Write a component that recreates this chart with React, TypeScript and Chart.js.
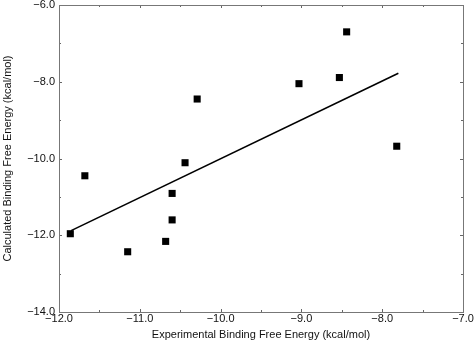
import React, { useEffect, useRef } from "react";
import { Chart, registerables } from "chart.js";

Chart.register(...registerables);

const expValues = [-11.86, -11.68, -11.15, -10.68, -10.6, -10.6, -10.44, -10.29, -9.03, -8.53, -8.44, -7.82];
const calcValues = [-11.96, -10.45, -12.43, -12.16, -11.6, -10.91, -10.11, -8.45, -8.05, -7.89, -6.7, -9.68];
const fitX = [-11.85, -7.8];
const fitY = [-11.88, -7.78];
const xTickMin = -12;
const xTickMax = -7;
const yTickMin = -14;
const yTickMax = -6;
const xTitle = "Experimental Binding Free Energy (kcal/mol)";
const yTitle = "Calculated Binding Free Energy (kcal/mol)";

const fmt = (v: number) => (v < 0 ? "\u2212" + Math.abs(v).toFixed(1) : v.toFixed(1));

const innerTicks = {
  id: "innerTicks",
  afterDraw(chart: any) {
    const { ctx, chartArea, scales } = chart;
    const xs = scales.x;
    const ys = scales.y;
    ctx.save();
    ctx.strokeStyle = "#666";
    ctx.lineWidth = 1;
    ctx.beginPath();
    for (let v = xTickMin; v <= xTickMax + 1e-9; v += 0.5) {
      const px = Math.round(xs.getPixelForValue(v)) + 0.5;
      const major = Math.abs(v - Math.round(v)) < 1e-6;
      const len = major ? 3 : 2;
      ctx.moveTo(px, chartArea.bottom);
      ctx.lineTo(px, chartArea.bottom - len);
      ctx.moveTo(px, chartArea.top);
      ctx.lineTo(px, chartArea.top + len);
    }
    for (let v = yTickMin; v <= yTickMax + 1e-9; v += 1) {
      const py = Math.round(ys.getPixelForValue(v)) + 0.5;
      const major = Math.abs(v % 2) < 1e-6;
      const len = major ? 3 : 2;
      ctx.moveTo(chartArea.left, py);
      ctx.lineTo(chartArea.left + len, py);
      ctx.moveTo(chartArea.right, py);
      ctx.lineTo(chartArea.right - len, py);
    }
    ctx.stroke();
    ctx.strokeStyle = "#777";
    ctx.strokeRect(
      Math.round(chartArea.left) + 0.5,
      Math.round(chartArea.top) + 0.5,
      Math.round(chartArea.right - chartArea.left),
      Math.round(chartArea.bottom - chartArea.top)
    );
    ctx.restore();
  },
};

export default function App() {
  const ref = useRef<HTMLCanvasElement | null>(null);
  useEffect(() => {
    if (!ref.current) return;
    const font = { family: "'Liberation Sans', Arial, Helvetica, sans-serif", size: 11 };
    const chart = new Chart(ref.current, {
      type: "scatter",
      data: {
        datasets: [
          {
            type: "line" as any,
            data: fitX.map((x, i) => ({ x, y: fitY[i] })),
            borderColor: "#000",
            borderWidth: 1.6,
            pointRadius: 0,
            fill: false,
          },
          {
            data: expValues.map((x, i) => ({ x, y: calcValues[i] })),
            pointStyle: "rect",
            pointRadius: 5,
            backgroundColor: "#000",
            borderWidth: 0,
          },
        ],
      },
      plugins: [innerTicks],
      options: {
        responsive: false,
        animation: false,
        devicePixelRatio: 1,
        layout: { padding: { left: 0, right: 11, top: 4, bottom: 0 } },
        plugins: { legend: { display: false }, tooltip: { enabled: false } },
        scales: {
          x: {
            type: "linear",
            min: xTickMin,
            max: xTickMax,
            border: { display: false },
            grid: { display: false, drawTicks: false },
            ticks: { stepSize: 1, color: "#111", font, padding: 0, maxRotation: 0, callback: (v: any) => fmt(Number(v)) },
            title: { display: true, text: xTitle, color: "#111", font, padding: { top: 0, bottom: 1 } },
            afterFit: (s: any) => {
              s.height = 31;
              s.paddingLeft = 0;
              s.paddingRight = 0;
            },
          },
          y: {
            type: "linear",
            min: yTickMin,
            max: yTickMax,
            border: { display: false },
            grid: { display: false, drawTicks: false },
            ticks: { stepSize: 2, color: "#111", font, padding: 4, callback: (v: any) => fmt(Number(v)) },
            title: { display: true, text: yTitle, color: "#111", font, padding: { top: 1, bottom: 0 } },
            afterFit: (s: any) => {
              s.width = 59;
              s.paddingTop = 0;
              s.paddingBottom = 0;
            },
          },
        },
      },
    } as any);
    return () => chart.destroy();
  }, []);
  return (
    <div style={{ position: "fixed", left: 0, top: 0, width: 474, height: 343, background: "#fff" }}>
      <canvas ref={ref} width={474} height={343} style={{ display: "block" }} />
    </div>
  );
}
